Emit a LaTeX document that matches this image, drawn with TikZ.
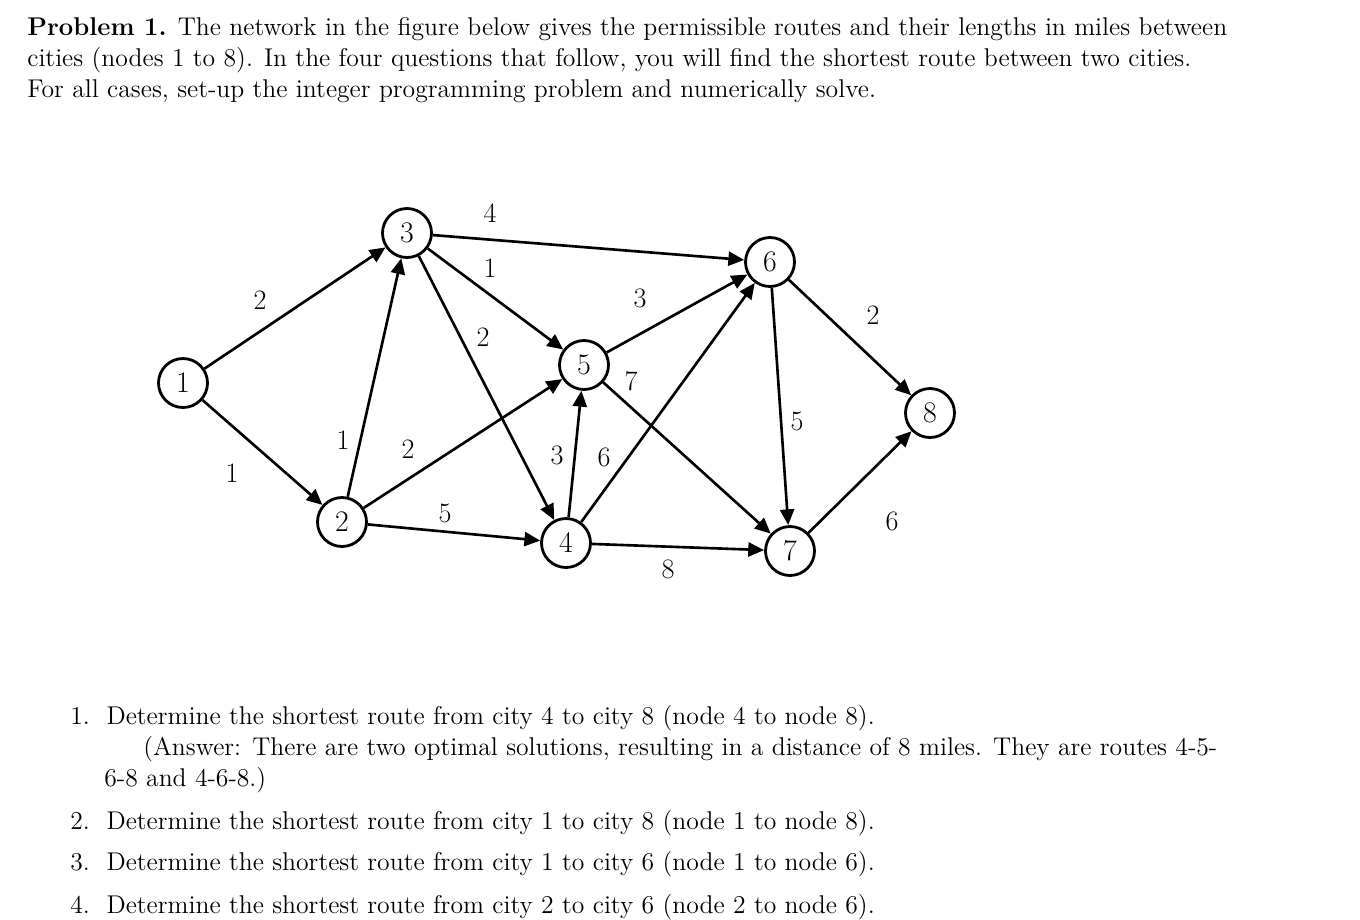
\documentclass[tikz,border=0pt]{standalone}
\usetikzlibrary{arrows.meta}
\begin{document}
\begin{tikzpicture}[x=0.02cm,y=-0.02cm,
  city/.style={circle,draw,line width=1.6pt,minimum size=0.98cm,inner sep=0pt,font=\fontsize{17}{20}\selectfont},
  road/.style={line width=1.5pt,-{Triangle[length=9pt,width=8pt]}},
  lab/.style={font=\fontsize{16}{19}\selectfont},
  txt/.style={anchor=base west,inner sep=0pt,font=\fontsize{14.6}{17}\selectfont}]
\useasboundingbox (0,0) rectangle (1360,920);
\node[txt] (t1) at (27,35) {\textbf{Problem 1.} The network in the figure below gives the permissible routes and their lengths in miles between};
\node[txt] (t2) at (27,66) {cities (nodes 1 to 8). In the four questions that follow, you will find the shortest route between two cities.};
\node[txt] (t3) at (27,97) {For all cases, set-up the integer programming problem and numerically solve.};
\node (n1) [city] at (183,383) {1};
\node (n2) [city] at (342,522) {2};
\node (n3) [city] at (407,233) {3};
\node (n4) [city] at (566,543) {4};
\node (n5) [city] at (584,365) {5};
\node (n6) [city] at (770,262) {6};
\node (n7) [city] at (790,551) {7};
\node (n8) [city] at (930,413) {8};
\draw[road] (n1) -- (n3);
\draw[road] (n1) -- (n2);
\draw[road] (n2) -- (n3);
\draw[road] (n2) -- (n5);
\draw[road] (n2) -- (n4);
\draw[road] (n3) -- (n6);
\draw[road] (n3) -- (n5);
\draw[road] (n3) -- (n4);
\draw[road] (n4) -- (n5);
\draw[road] (n4) -- (n6);
\draw[road] (n4) -- (n7);
\draw[road] (n5) -- (n6);
\draw[road] (n5) -- (n7);
\draw[road] (n6) -- (n7);
\draw[road] (n6) -- (n8);
\draw[road] (n7) -- (n8);
\node[lab] (l13) at (260,300) {2};
\node[lab] (l12) at (232,473) {1};
\node[lab] (l23) at (343,440) {1};
\node[lab] (l34) at (483,337) {2};
\node[lab] (l25) at (408,449) {2};
\node[lab] (l24) at (445,513) {5};
\node[lab] (l36) at (490,213) {4};
\node[lab] (l35) at (490,268) {1};
\node[lab] (l56) at (640,298) {3};
\node[lab] (l57) at (631,381) {7};
\node[lab] (l45) at (557,455) {3};
\node[lab] (l46) at (604,457) {6};
\node[lab] (l47) at (668,569) {8};
\node[lab] (l67) at (797,421) {5};
\node[lab] (l68) at (873,315) {2};
\node[lab] (l78) at (892,521) {6};
\node[txt] (q1) at (70,724) {1.\ \ Determine the shortest route from city 4 to city 8 (node 4 to node 8).};
\node[txt] (q1a) at (143,755) {(Answer: There are two optimal solutions, resulting in a distance of 8 miles. They are routes 4-5-};
\node[txt] (q1b) at (104,786) {6-8 and 4-6-8.)};
\node[txt] (q2) at (70,829) {2.\ \ Determine the shortest route from city 1 to city 8 (node 1 to node 8).};
\node[txt] (q3) at (70,870) {3.\ \ Determine the shortest route from city 1 to city 6 (node 1 to node 6).};
\node[txt] (q4) at (70,913) {4.\ \ Determine the shortest route from city 2 to city 6 (node 2 to node 6).};
\end{tikzpicture}
\end{document}
